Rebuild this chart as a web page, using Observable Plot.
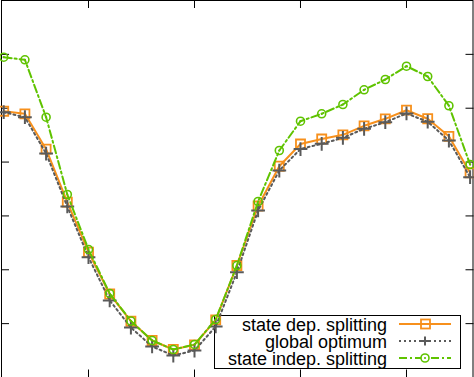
<!DOCTYPE html>
<html><head><meta charset="utf-8">
<script src="https://cdn.jsdelivr.net/npm/d3@7"></script>
<script src="https://cdn.jsdelivr.net/npm/@observablehq/plot@0.6"></script>
<style>
body{margin:0;background:#fff;}
#wrap{position:relative;width:474px;height:377px;overflow:hidden;background:#fff;font-family:"Liberation Sans",Arial,sans-serif;}
#wrap svg{position:absolute;left:0;top:0;}
</style></head><body><div id="wrap"></div>
<script>
// x: evaluation step index; y: objective value
const steps = d3.range(23);
const stateDep = [4.944,4.896,4.239,3.255,2.326,1.550,1.045,0.687,0.520,0.607,1.071,2.079,3.184,3.923,4.335,4.428,4.506,4.673,4.803,4.963,4.805,4.478,3.801];
const globalOpt = [4.926,4.833,4.159,3.175,2.234,1.430,0.928,0.576,0.408,0.501,0.947,1.955,3.101,3.843,4.242,4.339,4.450,4.618,4.740,4.902,4.749,4.400,3.719];
const stateIndep = [5.947,5.899,4.833,3.398,2.377,1.560,1.049,0.687,0.520,0.613,1.077,2.079,3.268,4.215,4.759,4.896,5.069,5.342,5.533,5.780,5.589,5.046,3.955];
const xTicks = [4, 9, 14, 19];
const yTicks = [1, 2, 3, 4, 5, 6];
const seriesNames = ["state dep. splitting", "global optimum", "state indep. splitting"];

const ORANGE = "#f7901c", GRAY = "#5a5a5a", GREEN = "#5fc300";
const noText = () => "";

const wrap = document.getElementById("wrap");

// legend (drawn behind the plot, like gnuplot's key)
const leg = d3.create("svg").attr("width", 474).attr("height", 377);
leg.append("rect").attr("x", 214.5).attr("y", 315.5).attr("width", 246).attr("height", 53)
  .attr("fill", "none").attr("stroke", "#000").attr("stroke-width", 1);
const rows = [
  {name: seriesNames[0], base: 331, ly: 324, color: ORANGE, dash: null, w: 2},
  {name: seriesNames[1], base: 348, ly: 341, color: GRAY, dash: "2,3", w: 2},
  {name: seriesNames[2], base: 364.5, ly: 358, color: GREEN, dash: "8,3,2,3", w: 2}
];
rows.forEach((r, k) => {
  leg.append("text").attr("x", 387).attr("y", r.base).attr("text-anchor", "end")
    .attr("font-size", 18).attr("font-family", '"Liberation Sans", Arial, sans-serif')
    .attr("fill", "#000").text(r.name);
  const ln = leg.append("line").attr("x1", 399).attr("x2", 451).attr("y1", r.ly).attr("y2", r.ly)
    .attr("stroke", r.color).attr("stroke-width", r.w);
  if (r.dash) ln.attr("stroke-dasharray", r.dash);
  if (k === 0) leg.append("rect").attr("x", 421).attr("y", r.ly - 4.5).attr("width", 9).attr("height", 9)
    .attr("fill", "none").attr("stroke", ORANGE).attr("stroke-width", 1.8);
  if (k === 1) leg.append("path").attr("d", `M420.5,${r.ly}h9M425,${r.ly - 4.5}v9`)
    .attr("stroke", GRAY).attr("stroke-width", 2);
  if (k === 2) {
    leg.append("circle").attr("cx", 425).attr("cy", r.ly).attr("r", 4).attr("fill", "#fff")
      .attr("stroke", GREEN).attr("stroke-width", 1.6);
    leg.append("circle").attr("cx", 425).attr("cy", r.ly).attr("r", 1.1).attr("fill", GREEN);
  }
});
wrap.appendChild(leg.node());

const fx = i => i;
const plot = Plot.plot({
  width: 474,
  height: 380,
  marginTop: 0,
  marginBottom: 1.5,
  marginLeft: 1,
  marginRight: 1.5,
  x: {domain: [-0.104, 22.137]},
  y: {domain: [-0.028, 7]},
  style: {background: "transparent", overflow: "visible"},
  marks: [
    Plot.frame({stroke: "#000", strokeWidth: 1}),
    Plot.axisX({anchor: "top", ticks: xTicks, tickSize: -7, tickFormat: noText, label: null, stroke: "#000"}),
    Plot.axisX({anchor: "bottom", ticks: xTicks, tickSize: -9, tickFormat: noText, label: null, stroke: "#000"}),
    Plot.axisY({anchor: "left", ticks: yTicks, tickSize: -8, tickFormat: noText, label: null, stroke: "#000"}),
    Plot.axisY({anchor: "right", ticks: yTicks, tickSize: -8, tickFormat: noText, label: null, stroke: "#000"}),
    // state dependent splitting
    Plot.line(steps, {x: fx, y: i => stateDep[i], stroke: ORANGE, strokeWidth: 2}),
    Plot.dot(steps, {x: fx, y: i => stateDep[i], symbol: "square", r: 5.1, stroke: ORANGE, strokeWidth: 1.8, fill: "none"}),
    // global optimum
    Plot.line(steps, {x: fx, y: i => globalOpt[i], stroke: GRAY, strokeWidth: 2, strokeDasharray: "2,3"}),
    Plot.dot(steps, {x: fx, y: i => globalOpt[i], symbol: "plus", r: 4.5, stroke: GRAY, strokeWidth: 2}),
    // state independent splitting
    Plot.line(steps, {x: fx, y: i => stateIndep[i], stroke: GREEN, strokeWidth: 2, strokeDasharray: "8,3,2,3"}),
    Plot.dot(steps, {x: fx, y: i => stateIndep[i], symbol: "circle", r: 4, stroke: GREEN, strokeWidth: 1.6, fill: "none"}),
    Plot.dot(steps, {x: fx, y: i => stateIndep[i], r: 1.1, fill: GREEN, stroke: "none"})
  ]
});
wrap.appendChild(plot);
</script>
</body></html>
